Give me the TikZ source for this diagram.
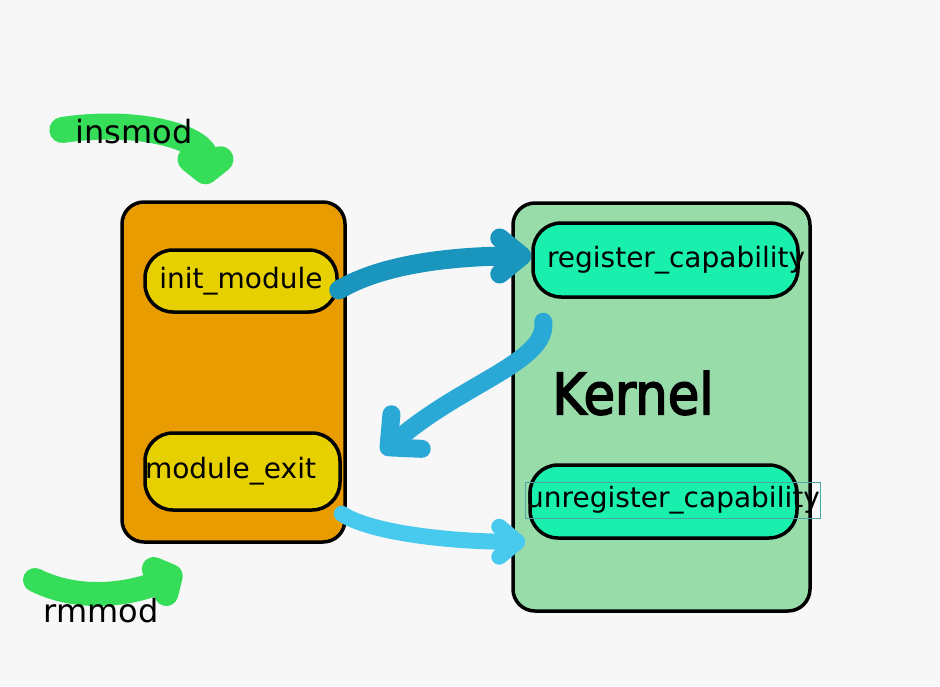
\documentclass[tikz,border=0pt]{standalone}
\usepackage{fontspec}
\setmainfont{DejaVu Sans}
\usetikzlibrary{arrows.meta,backgrounds}

\definecolor{bgcol}{HTML}{F7F7F7}
\definecolor{modorange}{HTML}{E99C00}
\definecolor{funcyellow}{HTML}{E7D000}
\definecolor{kerngreen}{HTML}{98DCAA}
\definecolor{capmint}{HTML}{1AF0AE}
\definecolor{arrdark}{HTML}{1995BE}
\definecolor{arrmid}{HTML}{2BA9D6}
\definecolor{arrlight}{HTML}{48C9EE}
\definecolor{markgreen}{HTML}{36DD58}

\begin{document}
\begin{tikzpicture}[x=1pt,y=-1pt,
  box/.style={draw=black, line width=3.5pt, rounded corners=22pt, inner sep=0pt},
  pill/.style={draw=black, line width=3.5pt, rounded corners=28pt, inner ysep=0pt,
    font=\fontsize{28}{31}\selectfont},
  marker/.style={line width=#1, line cap=round, line join=round},
  word/.style={inner sep=0pt, font=\fontsize{32}{36}\selectfont}]

% module box
\node[box, fill=modorange, minimum width=223pt, minimum height=340pt] (module) at (233.5,372) {};
\node[pill, fill=funcyellow, inner xsep=0pt, text width=192pt, align=center, minimum height=62pt] (init) at (241,281) {\mbox{init\_module}};
\node[pill, fill=funcyellow, inner xsep=0pt, text width=195pt, align=left, minimum height=77pt] (exit) at (242.5,471.5) {\mbox{module\_exit}};

% kernel box
\node[box, fill=kerngreen, minimum width=297pt, minimum height=408pt] (kernel) at (661.5,407) {};
\node[inner sep=0pt, transform shape, xscale=0.9,
  font=\fontsize{57}{62}\selectfont\addfontfeature{FakeBold=3}] (kname) at (633,393) {Kernel};
\node[pill, fill=capmint, inner xsep=14pt, text width=237pt, align=left, minimum height=74pt] (reg) at (665.5,260) {\mbox{register\_capability}};
\node[pill, fill=capmint, minimum width=267pt, minimum height=73pt] (unreg) at (663.5,501.5) {};
\node[draw=teal!70, line width=0.8pt, inner xsep=1pt, inner ysep=4pt, font=\fontsize{28}{31}\selectfont] (unregtext) at (673,500) {unregister\_capability};

% insmod / rmmod
\node[word] (insmod) at (134,132) {insmod};
\node[word] (rmmod) at (101,611) {rmmod};

\begin{scope}[on background layer]
\fill[bgcol] (0,0) rectangle (940,686);
% green marks
\draw[marker=26pt, markgreen, -{Straight Barb[length=12pt, width=30pt, round]}]
  ([xshift=-13pt,yshift=2pt]insmod.west) .. controls +(80,-12) and +(0,-45) .. ([xshift=-28pt,yshift=16pt]module.north);
\draw[marker=24pt, markgreen, -{Straight Barb[length=12pt, width=28pt, round]}]
  ([shift={(-66pt,31pt)}]rmmod.center) .. controls +(50,25) and +(-40,20) .. ([shift={(-52pt,-27pt)}]module.south);
\end{scope}

% blue arrows
\draw[marker=19pt, arrdark, -{Straight Barb[length=22pt, width=36pt, round]}]
  ([yshift=-9pt]init.east) .. controls +(50,-30) and +(-60,0) .. ([yshift=4pt]reg.west);
\draw[marker=18pt, arrmid, -{Straight Barb[length=24pt, width=46pt, round]}]
  ([xshift=12pt,yshift=-23pt]reg.south west) .. controls +(5,40) and +(80,-70) .. ([xshift=40pt,yshift=-22pt]exit.north east);
\draw[marker=16pt, arrlight, -{Straight Barb[length=18pt, width=30pt, round]}]
  ([yshift=-2pt]exit.south east) .. controls +(30,20) and +(-70,0) .. ([xshift=-3pt,yshift=-2pt]unreg.south west);
\end{tikzpicture}
\end{document}
